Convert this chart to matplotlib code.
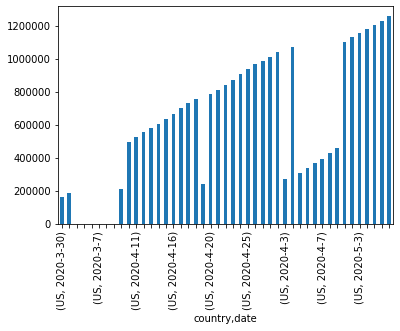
import pandas as pd
import matplotlib
matplotlib.use('Agg')
import matplotlib.pyplot as plt

# dates sorted as strings, like the original index
dates = ['2020-3-30', '2020-3-31', '2020-3-4', '2020-3-5', '2020-3-6', '2020-3-7',
         '2020-3-8', '2020-3-9', '2020-4-1', '2020-4-10', '2020-4-11', '2020-4-12',
         '2020-4-13', '2020-4-14', '2020-4-15', '2020-4-16', '2020-4-17', '2020-4-18',
         '2020-4-19', '2020-4-2', '2020-4-20', '2020-4-21', '2020-4-22', '2020-4-23',
         '2020-4-24', '2020-4-25', '2020-4-26', '2020-4-27', '2020-4-28', '2020-4-29',
         '2020-4-3', '2020-4-30', '2020-4-4', '2020-4-5', '2020-4-6', '2020-4-7',
         '2020-4-8', '2020-4-9', '2020-5-1', '2020-5-2', '2020-5-3', '2020-5-4',
         '2020-5-5', '2020-5-6', '2020-5-7']
confirmed = [161807, 188172, 0, 0, 0, 0,
             0, 0, 213372, 496535, 526396, 555313,
             580619, 607670, 636350, 667592, 699706, 732197,
             759086, 243453, 784326, 811865, 840351, 869170,
             905358, 938154, 965785, 988197, 1012582, 1039909,
             275586, 1069424, 308850, 337072, 366667, 396223,
             429052, 461437, 1103461, 1132539, 1158040, 1180375,
             1204351, 1229331, 1257023]

idx = pd.MultiIndex.from_tuples([('US', d) for d in dates], names=['country', 'date'])
s = pd.Series(confirmed, index=idx)

fig = plt.figure(figsize=(400 / 72, 331 / 72), dpi=72)
ax = fig.add_axes([0.145, 0.323, 0.8375, 0.659])
s.plot(kind='bar', ax=ax, color='#1f77b4')

# show only every 5th label
labels = ['(US, %s)' % d if i % 5 == 0 else '' for i, d in enumerate(dates)]
ax.set_xticklabels(labels, rotation=90)
ax.ticklabel_format(axis='y', style='plain')
ax.set_xlabel('country,date')

fig.savefig('out.png', dpi=72)
